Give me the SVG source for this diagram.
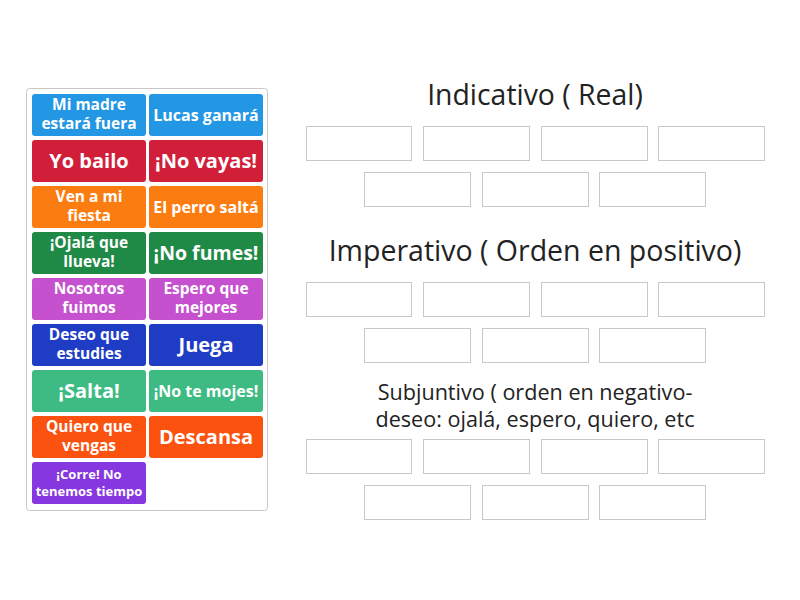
<svg xmlns="http://www.w3.org/2000/svg" width="800" height="600" viewBox="0 0 800 600">
<style>
.t{font-family:"Open Sans","Noto Sans",sans-serif;font-weight:bold;fill:#fff;text-anchor:middle}
.h{font-family:"Open Sans","Noto Sans",sans-serif;fill:#222;text-anchor:middle}
.slot{fill:#fff;stroke:#c8c8c8;stroke-width:1}
</style>
<rect width="800" height="600" fill="#fff"/>
<rect x="26.5" y="88.5" width="241" height="422" rx="3" fill="#fff" stroke="#c8c8c8"/>
<g id="tiles">
<g id="n1"><rect x="32" y="94" width="114" height="42" rx="3" fill="#2396e4"/><text class="t" x="89" y="110" font-size="15.5">Mi madre</text><text class="t" x="89" y="129" font-size="15.5">estará fuera</text></g>
<g id="n2"><rect x="149" y="94" width="114" height="42" rx="3" fill="#2396e4"/><text class="t" x="206" y="121" font-size="16">Lucas ganará</text></g>
<g id="n3"><rect x="32" y="140" width="114" height="42" rx="3" fill="#d11f3a"/><text class="t" x="89" y="168" font-size="20">Yo bailo</text></g>
<g id="n4"><rect x="149" y="140" width="114" height="42" rx="3" fill="#d11f3a"/><text class="t" x="206" y="168" font-size="20">¡No vayas!</text></g>
<g id="n5"><rect x="32" y="186" width="114" height="42" rx="3" fill="#fb7d12"/><text class="t" x="89" y="202" font-size="15.5">Ven a mi</text><text class="t" x="89" y="221" font-size="15.5">fiesta</text></g>
<g id="n6"><rect x="149" y="186" width="114" height="42" rx="3" fill="#fb7d12"/><text class="t" x="206" y="213" font-size="16">El perro saltá</text></g>
<g id="n7"><rect x="32" y="232" width="114" height="42" rx="3" fill="#1f8a46"/><text class="t" x="89" y="248" font-size="15.5">¡Ojalá que</text><text class="t" x="89" y="267" font-size="15.5">llueva!</text></g>
<g id="n8"><rect x="149" y="232" width="114" height="42" rx="3" fill="#1f8a46"/><text class="t" x="206" y="260" font-size="19.5">¡No fumes!</text></g>
<g id="n9"><rect x="32" y="278" width="114" height="42" rx="3" fill="#c551cf"/><text class="t" x="89" y="294" font-size="15.5">Nosotros</text><text class="t" x="89" y="313" font-size="15.5">fuimos</text></g>
<g id="n10"><rect x="149" y="278" width="114" height="42" rx="3" fill="#c551cf"/><text class="t" x="206" y="294" font-size="15.5">Espero que</text><text class="t" x="206" y="313" font-size="15.5">mejores</text></g>
<g id="n11"><rect x="32" y="324" width="114" height="42" rx="3" fill="#1f3dc4"/><text class="t" x="89" y="340" font-size="15.5">Deseo que</text><text class="t" x="89" y="359" font-size="15.5">estudies</text></g>
<g id="n12"><rect x="149" y="324" width="114" height="42" rx="3" fill="#1f3dc4"/><text class="t" x="206" y="352" font-size="20">Juega</text></g>
<g id="n13"><rect x="32" y="370" width="114" height="42" rx="3" fill="#3dbb82"/><text class="t" x="89" y="398" font-size="20">¡Salta!</text></g>
<g id="n14"><rect x="149" y="370" width="114" height="42" rx="3" fill="#3dbb82"/><text class="t" x="206" y="397" font-size="16">¡No te mojes!</text></g>
<g id="n15"><rect x="32" y="416" width="114" height="42" rx="3" fill="#fb5210"/><text class="t" x="89" y="432" font-size="15.5">Quiero que</text><text class="t" x="89" y="451" font-size="15.5">vengas</text></g>
<g id="n16"><rect x="149" y="416" width="114" height="42" rx="3" fill="#fb5210"/><text class="t" x="206" y="444" font-size="20">Descansa</text></g>
<g id="n17"><rect x="32" y="462" width="114" height="42" rx="3" fill="#8737df"/><text class="t" x="89" y="479" font-size="13">¡Corre! No</text><text class="t" x="89" y="496" font-size="13">tenemos tiempo</text></g>
</g>
<g id="sec1">
<text class="h" x="535" y="105" font-size="28.4">Indicativo ( Real)</text>
<rect class="slot" x="306.5" y="126.5" width="105" height="34"/><rect class="slot" x="423.5" y="126.5" width="106" height="34"/><rect class="slot" x="541.5" y="126.5" width="106" height="34"/><rect class="slot" x="658.5" y="126.5" width="106" height="34"/>
<rect class="slot" x="364.5" y="172.5" width="106" height="34"/><rect class="slot" x="482.5" y="172.5" width="106" height="34"/><rect class="slot" x="599.5" y="172.5" width="106" height="34"/>
</g>
<g id="sec2">
<text class="h" x="535" y="261" font-size="28.5">Imperativo ( Orden en positivo)</text>
<rect class="slot" x="306.5" y="282.5" width="105" height="34"/><rect class="slot" x="423.5" y="282.5" width="106" height="34"/><rect class="slot" x="541.5" y="282.5" width="106" height="34"/><rect class="slot" x="658.5" y="282.5" width="106" height="34"/>
<rect class="slot" x="364.5" y="328.5" width="106" height="34"/><rect class="slot" x="482.5" y="328.5" width="106" height="34"/><rect class="slot" x="599.5" y="328.5" width="106" height="34"/>
</g>
<g id="sec3">
<text class="h" x="535" y="400" font-size="21.6">Subjuntivo ( orden en negativo-</text>
<text class="h" x="535" y="427" font-size="21.6">deseo: ojalá, espero, quiero, etc</text>
<rect class="slot" x="306.5" y="439.5" width="105" height="34"/><rect class="slot" x="423.5" y="439.5" width="106" height="34"/><rect class="slot" x="541.5" y="439.5" width="106" height="34"/><rect class="slot" x="658.5" y="439.5" width="106" height="34"/>
<rect class="slot" x="364.5" y="485.5" width="106" height="34"/><rect class="slot" x="482.5" y="485.5" width="106" height="34"/><rect class="slot" x="599.5" y="485.5" width="106" height="34"/>
</g>
<g id="connectors"/>
</svg>
